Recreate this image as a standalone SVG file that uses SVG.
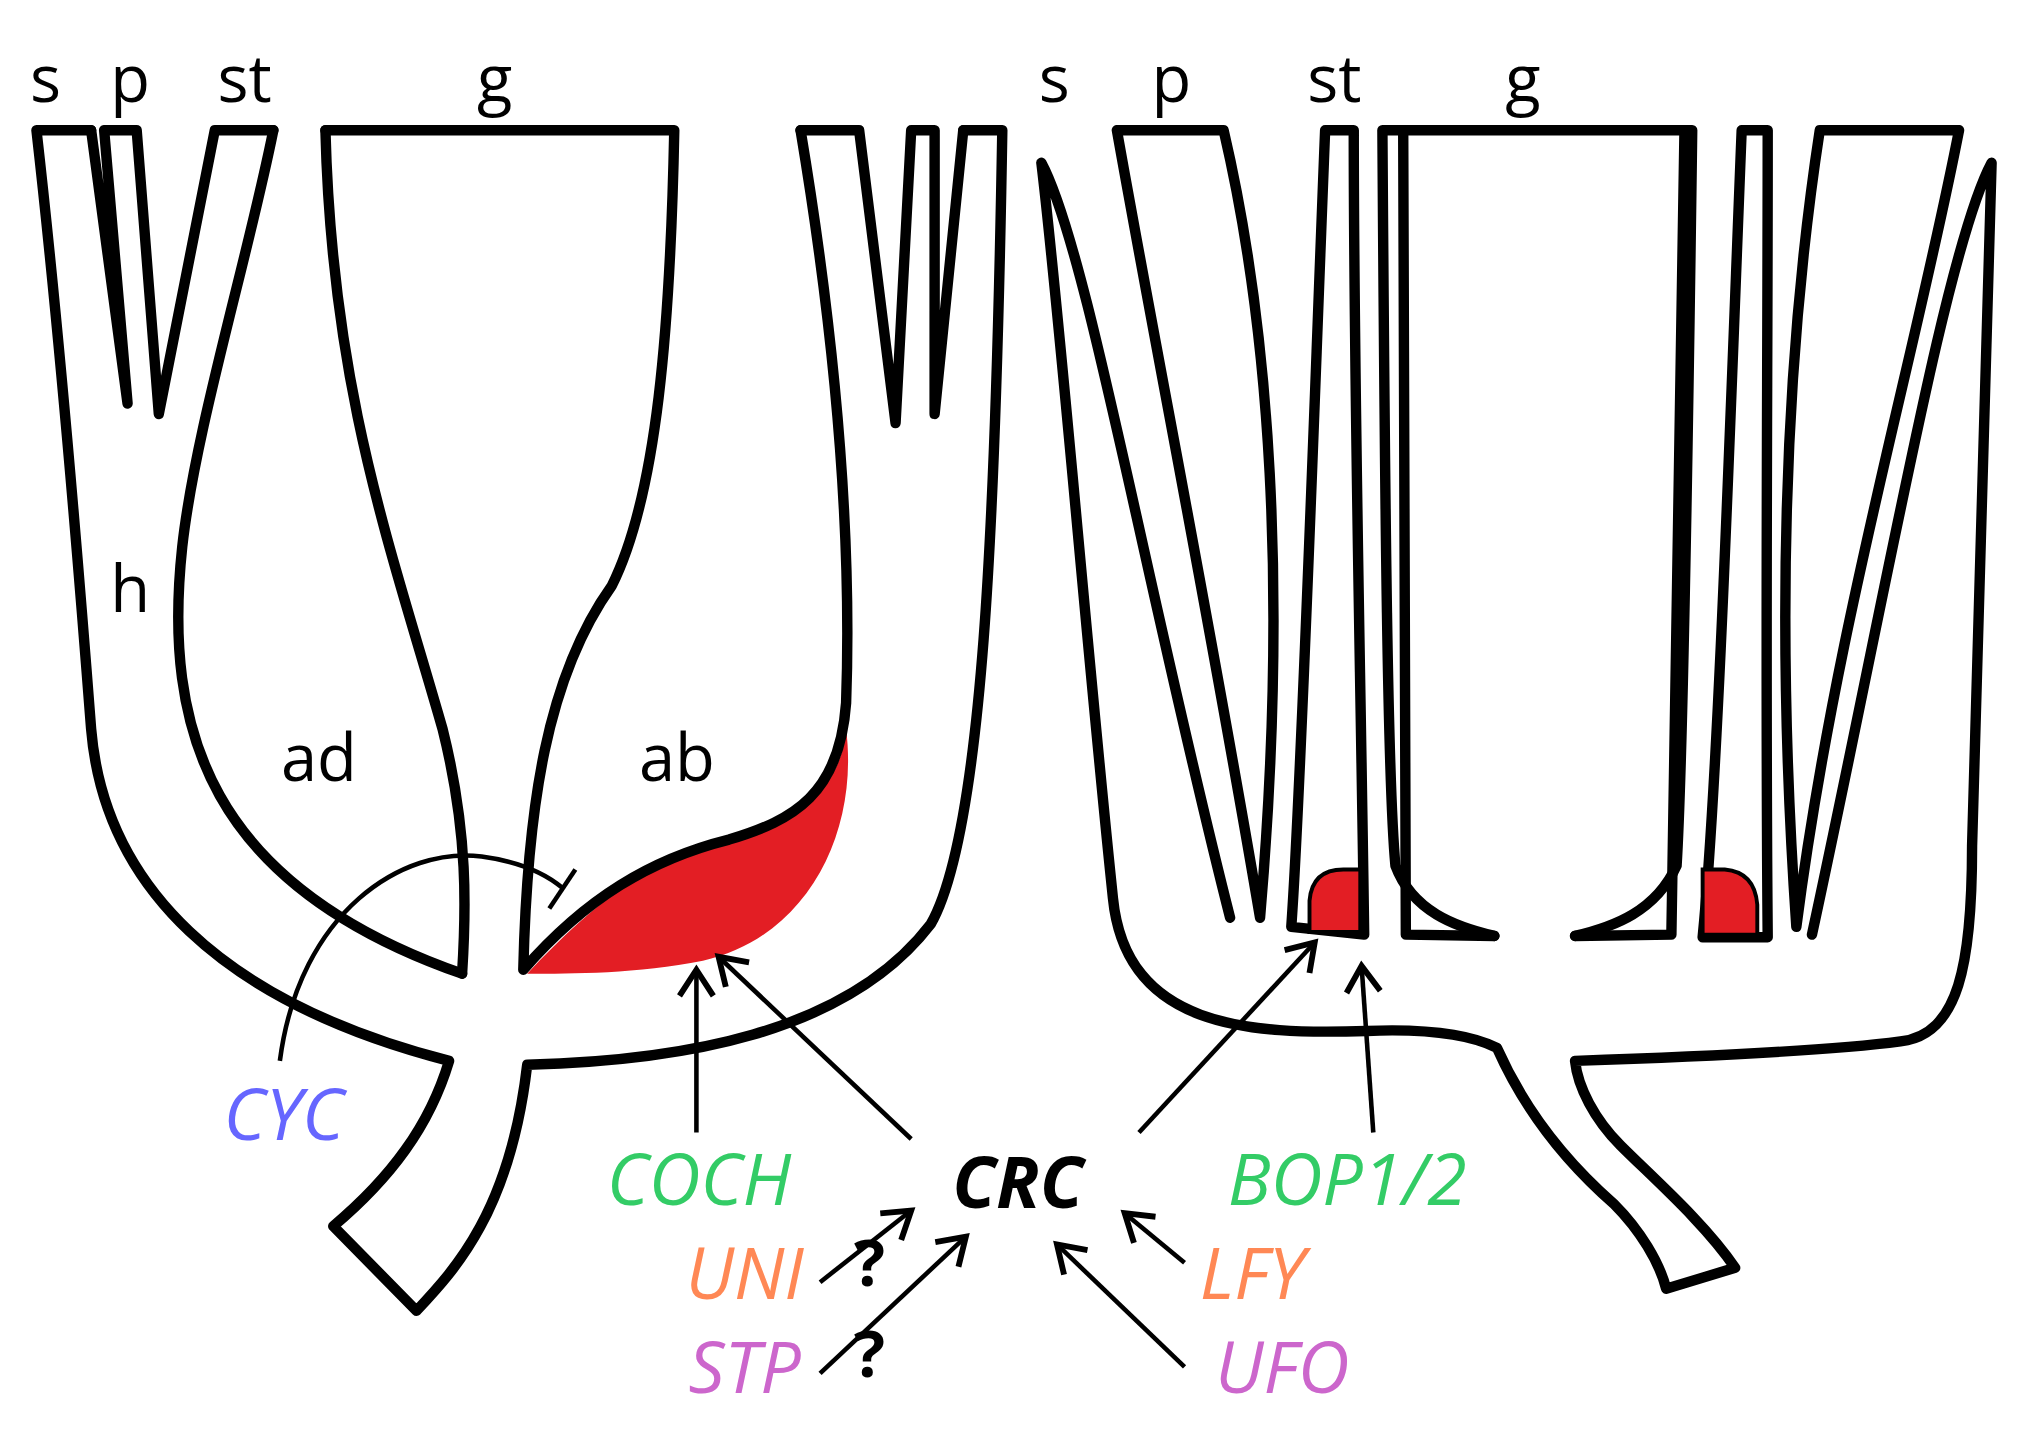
<svg xmlns="http://www.w3.org/2000/svg" width="2041" height="1444" viewBox="0 0 2041 1444">
<defs>
<style>
.o{fill:none;stroke:#000;stroke-width:8;stroke-linejoin:round;stroke-linecap:round}
.red{fill:#e31e24}
.c{fill:none;stroke:#000;stroke-width:3.5}
.a{fill:none;stroke:#000;stroke-width:3.5;marker-end:url(#ah)}
.t{font-family:'Open Sans','DejaVu Sans',sans-serif;font-size:50px;fill:#000;text-anchor:middle}
.g{font-family:'Open Sans','DejaVu Sans',sans-serif;font-size:55px;font-style:italic;text-anchor:middle}
</style>
<marker id="ah" markerUnits="userSpaceOnUse" markerWidth="40" markerHeight="40" refX="0" refY="0" orient="auto" overflow="visible">
<path d="M-20,-13 L0,0 L-20,13" fill="none" stroke="#000" stroke-width="4.5" stroke-linejoin="miter"/>
</marker>
</defs>
<rect width="2041" height="1444" fill="#fff"/>
<g transform="scale(1.3017)">
<g id="left-flower">
<path class="o" d="M70,100 L28,100 C45,250 60,430 70,560 C80,680 170,770 345,815 C330,865 300,905 256,942 L320,1007 C350,975 392,930 405,818 C520,815 650,795 715,710 C755,640 765,400 770,100 L740,100"/>
<path class="o" d="M70,100 L98,310 L80,100 L105,100 L122,318 L165,100 L210,100"/>
<path class="o" d="M740,100 L718,318 L718,100 L700,100 L688,325 L660,100 L615,100"/>
<path class="red" d="M405,748 C460,690 500,660 560,645 C610,630 645,610 650,560 C660,640 620,720 540,738 C490,748 440,748 405,748 Z"/>
<path class="o" d="M210,100 C190,200 150,330 140,420 C125,560 160,680 355,748"/>
<path class="o" d="M250,100 C255,300 300,420 340,560 C360,640 358,700 355,748"/>
<path class="o" d="M250,100 L518,100 C515,250 505,380 470,450 C420,520 405,620 402,745 C450,690 500,660 560,645 C610,630 645,610 650,540 C655,400 640,250 615,100"/>
</g>
<g id="right-flower">
<path class="o" d="M945,705 C880,450 835,190 800,125 C815,250 835,500 855,690 C865,790 960,795 1050,792 C1100,790 1130,795 1150,805 C1170,850 1200,890 1240,925 C1260,945 1275,970 1280,990 L1333,974 C1310,940 1270,905 1245,880 C1225,860 1212,835 1210,815 C1300,812 1400,808 1460,800 C1505,795 1515,740 1515,650 C1520,450 1525,250 1530,125 C1495,190 1450,450 1392,718"/>
<path class="o" d="M858,100 L940,100 C975,250 990,450 968,705 C930,480 890,280 858,100 Z"/>
<path class="o" d="M1505,100 L1398,100 C1375,250 1362,450 1380,712 C1410,480 1470,280 1505,100 Z"/>
<path class="o" d="M1018,100 L1040,100 C1040,300 1045,500 1048,718 L992,712 C1000,600 1010,300 1018,100 Z"/>
<path class="o" d="M1338,100 L1358,100 C1358,300 1356,500 1358,720 L1308,720 C1320,600 1330,300 1338,100 Z"/>
<path class="o" d="M1062,100 L1300,100 C1296,400 1292,600 1288,665 C1272,700 1240,712 1210,719 M1148,719 C1118,712 1085,700 1072,665 C1066,600 1064,400 1062,100"/>
<path class="o" d="M1078,104 L1080,718 L1148,719 M1294,104 L1284,718 L1210,719"/>
<path class="red" d="M1006,716 L1006,692 Q1008,668 1032,668 L1045,668 L1045,716 Z" stroke="#000" stroke-width="3"/>
<path class="red" d="M1308,718 L1308,668 L1325,668 Q1348,670 1350,695 L1350,718 Z" stroke="#000" stroke-width="3"/>
</g>
<g id="connectors">
<path class="c" d="M215,815 C230,700 310,650 370,658 C400,662 420,672 432,682"/>
<path class="c" d="M422,698 L442,668"/>
<path class="a" d="M535,870 L535,745"/>
<path class="a" d="M700,875 L552,735"/>
<path class="a" d="M875,870 L1010,724"/>
<path class="a" d="M1055,870 L1046,742"/>
<path class="a" d="M630,985 L700,930"/>
<path class="a" d="M630,1055 L742,950"/>
<path class="a" d="M910,970 L864,932"/>
<path class="a" d="M910,1050 L812,956"/>
</g>
<g id="labels">
<text class="t" x="35" y="78">s</text><text class="t" x="100" y="78">p</text><text class="t" x="188" y="78">st</text><text class="t" x="380" y="78">g</text>
<text class="t" x="810" y="78">s</text><text class="t" x="900" y="78">p</text><text class="t" x="1025" y="78">st</text><text class="t" x="1170" y="78">g</text>
<text class="t" x="100" y="470">h</text><text class="t" x="245" y="600">ad</text><text class="t" x="520" y="600">ab</text>
<text class="g" x="218" y="876" fill="#6666ff">CYC</text>
<text class="g" x="537" y="926" fill="#33cc66">COCH</text>
<text class="g" x="782" y="928" fill="#000" font-weight="bold" font-size="68">CRC</text>
<text class="g" x="1035" y="926" fill="#33cc66">BOP1/2</text>
<text class="g" x="572" y="998" fill="#ff8855">UNI</text>
<text class="g" x="572" y="1070" fill="#cc66cc">STP</text>
<text class="g" x="962" y="998" fill="#ff8855">LFY</text>
<text class="g" x="985" y="1070" fill="#cc66cc">UFO</text>
<text class="t" x="668" y="988" font-size="16" font-weight="bold">?</text>
<text class="t" x="668" y="1058" font-size="16" font-weight="bold">?</text>
</g>
</g>
</svg>
